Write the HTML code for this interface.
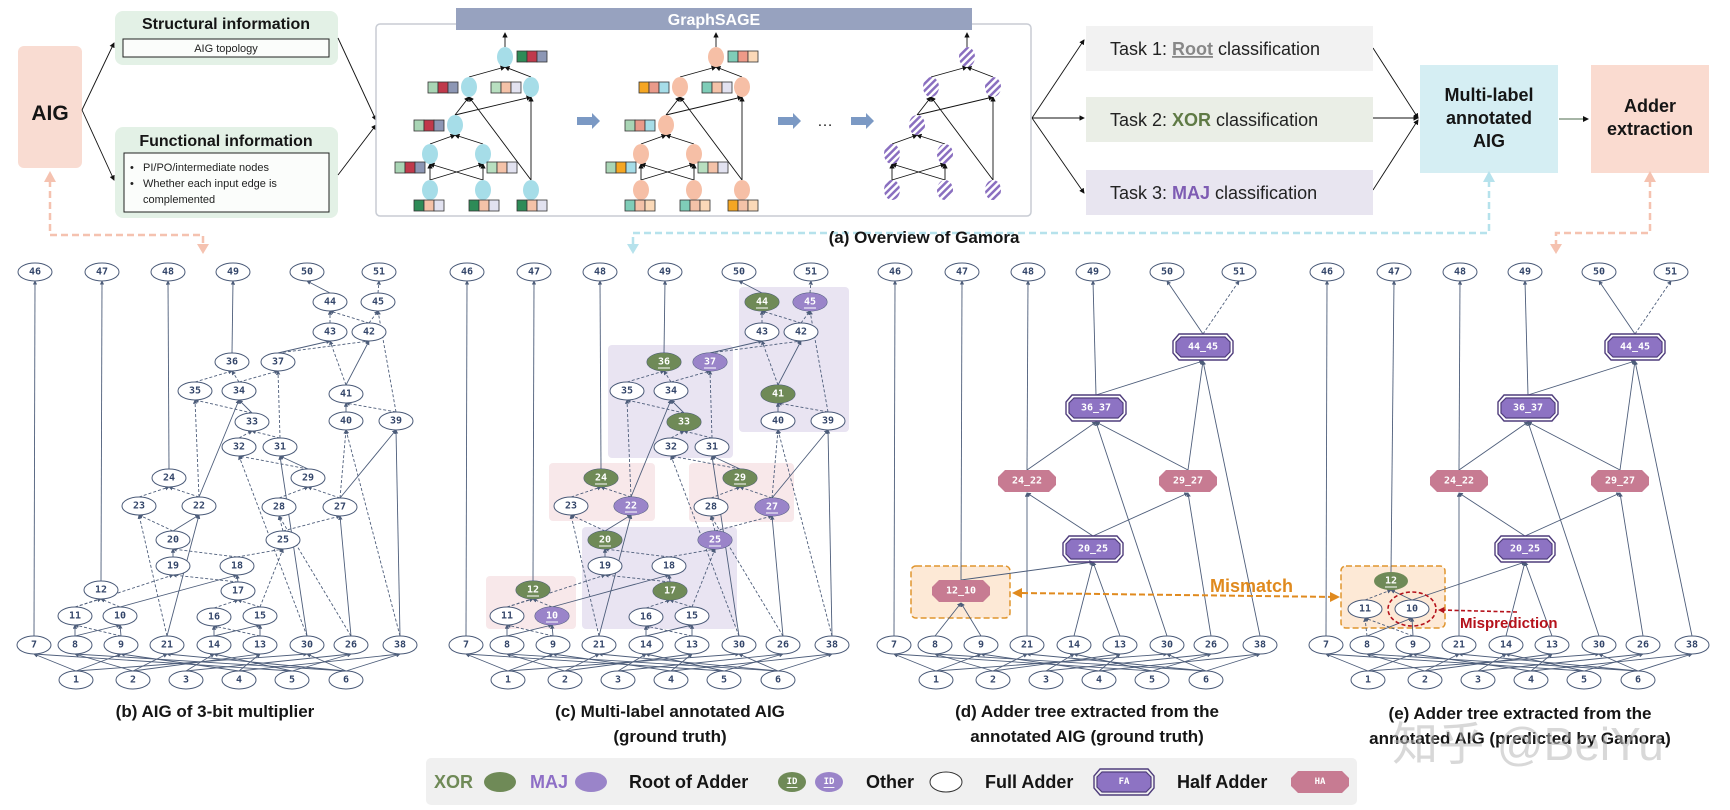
<!DOCTYPE html>
<html><head><meta charset="utf-8">
<style>
html,body{margin:0;padding:0;background:#fff;}
svg{display:block;}
.e{fill:none;stroke:#4d5d7a;stroke-width:0.9;}
.d{stroke-dasharray:3 2;}
.ell{fill:#fff;stroke:#4a5a78;stroke-width:1;}
.l{font-family:"DejaVu Sans Mono",monospace;font-weight:bold;font-size:10px;fill:#34466a;text-anchor:middle;dominant-baseline:central;}
.w{fill:#fff;}
.t{font-family:"Liberation Sans",sans-serif;font-weight:bold;fill:#151515;}
.ge{fill:none;stroke:#111;stroke-width:0.9;}
</style></head><body>
<svg width="1730" height="810" viewBox="0 0 1730 810" xmlns="http://www.w3.org/2000/svg">
<defs>
<marker id="a" viewBox="0 0 6 6" refX="5" refY="3" markerWidth="5" markerHeight="5" orient="auto"><path d="M0,0L6,3L0,6z" fill="#4d5d7a"/></marker>
<marker id="k" viewBox="0 0 6 6" refX="5" refY="3" markerWidth="6" markerHeight="6" orient="auto"><path d="M0,0L6,3L0,6z" fill="#111"/></marker>
<marker id="o" viewBox="0 0 6 6" refX="5" refY="3" markerWidth="4" markerHeight="4" orient="auto"><path d="M0,0L6,3L0,6z" fill="#e08a1e"/></marker>
<marker id="r" viewBox="0 0 6 6" refX="5" refY="3" markerWidth="4" markerHeight="4" orient="auto"><path d="M0,0L6,3L0,6z" fill="#b5121b"/></marker>
<pattern id="hatch" width="5" height="5" patternUnits="userSpaceOnUse" patternTransform="rotate(45)"><rect width="5" height="5" fill="#fff"/><rect width="2.5" height="5" fill="#8a6fc0"/></pattern>

<g id="inb" class="e" marker-end="url(#a)">
<line x1="76" y1="671" x2="34" y2="654"/><line x1="76" y1="671" x2="121" y2="654"/><line x1="76" y1="671" x2="307" y2="654"/>
<line x1="133" y1="671" x2="75" y2="654"/><line x1="133" y1="671" x2="167" y2="654"/><line x1="133" y1="671" x2="260" y2="654"/>
<line x1="186" y1="671" x2="214" y2="654"/><line x1="186" y1="671" x2="351" y2="654"/>
<line x1="239" y1="671" x2="121" y2="654"/><line x1="239" y1="671" x2="260" y2="654"/><line x1="239" y1="671" x2="400" y2="654"/>
<line x1="292" y1="671" x2="34" y2="654"/><line x1="292" y1="671" x2="214" y2="654"/><line x1="292" y1="671" x2="351" y2="654"/>
<line x1="346" y1="671" x2="75" y2="654"/><line x1="346" y1="671" x2="167" y2="654"/><line x1="346" y1="671" x2="307" y2="654"/><line x1="346" y1="671" x2="400" y2="654"/>
</g>
<g id="io">
<g class="ell">
<ellipse cx="35" cy="272" rx="17" ry="9"/><ellipse cx="102" cy="272" rx="17" ry="9"/><ellipse cx="168" cy="272" rx="17" ry="9"/><ellipse cx="233" cy="272" rx="17" ry="9"/><ellipse cx="307" cy="272" rx="17" ry="9"/><ellipse cx="379" cy="272" rx="17" ry="9"/>
<ellipse cx="34" cy="645" rx="17" ry="9"/><ellipse cx="75" cy="645" rx="17" ry="9"/><ellipse cx="121" cy="645" rx="17" ry="9"/><ellipse cx="167" cy="645" rx="17" ry="9"/><ellipse cx="214" cy="645" rx="17" ry="9"/><ellipse cx="260" cy="645" rx="17" ry="9"/><ellipse cx="307" cy="645" rx="17" ry="9"/><ellipse cx="351" cy="645" rx="17" ry="9"/><ellipse cx="400" cy="645" rx="17" ry="9"/>
<ellipse cx="76" cy="680" rx="17" ry="9"/><ellipse cx="133" cy="680" rx="17" ry="9"/><ellipse cx="186" cy="680" rx="17" ry="9"/><ellipse cx="239" cy="680" rx="17" ry="9"/><ellipse cx="292" cy="680" rx="17" ry="9"/><ellipse cx="346" cy="680" rx="17" ry="9"/>
</g>
<g class="l">
<text x="35" y="272">46</text><text x="102" y="272">47</text><text x="168" y="272">48</text><text x="233" y="272">49</text><text x="307" y="272">50</text><text x="379" y="272">51</text>
<text x="34" y="645">7</text><text x="75" y="645">8</text><text x="121" y="645">9</text><text x="167" y="645">21</text><text x="214" y="645">14</text><text x="260" y="645">13</text><text x="307" y="645">30</text><text x="351" y="645">26</text><text x="400" y="645">38</text>
<text x="76" y="680">1</text><text x="133" y="680">2</text><text x="186" y="680">3</text><text x="239" y="680">4</text><text x="292" y="680">5</text><text x="346" y="680">6</text>
</g>
</g>

<g id="edB">
<g class="e" marker-end="url(#a)">
<line x1="34" y1="636" x2="35" y2="281"/><line x1="101" y1="581" x2="102" y2="281"/><line x1="169" y1="469" x2="168" y2="281"/><line x1="232" y1="353" x2="233" y2="281"/><line x1="330" y1="293" x2="307" y2="281"/>
<line x1="278" y1="353" x2="330" y2="341"/><line x1="346" y1="385" x2="369" y2="341"/><line x1="252" y1="413" x2="239" y2="400"/><line x1="199" y1="497" x2="239" y2="400"/><line x1="346" y1="412" x2="346" y2="403"/>
<line x1="340" y1="498" x2="396" y2="430"/><line x1="400" y1="636" x2="396" y2="430"/><line x1="308" y1="469" x2="280" y2="456"/><line x1="307" y1="636" x2="280" y2="456"/>
<line x1="173" y1="531" x2="199" y2="515"/><line x1="167" y1="636" x2="199" y2="515"/><line x1="173" y1="557" x2="173" y2="549"/><line x1="351" y1="636" x2="340" y2="516"/>
<line x1="120" y1="607" x2="237" y2="575"/><line x1="238" y1="582" x2="237" y2="575"/><line x1="75" y1="636" x2="75" y2="625"/><line x1="75" y1="636" x2="120" y2="625"/><line x1="121" y1="636" x2="120" y2="625"/>
<line x1="214" y1="636" x2="214" y2="626"/><line x1="214" y1="636" x2="260" y2="625"/><line x1="260" y1="636" x2="260" y2="625"/>
</g>
<g class="e d" marker-end="url(#a)">
<line x1="378" y1="293" x2="379" y2="281"/><line x1="330" y1="323" x2="330" y2="311"/><line x1="369" y1="323" x2="330" y2="311"/><line x1="369" y1="323" x2="378" y2="311"/><line x1="396" y1="412" x2="378" y2="311"/>
<line x1="278" y1="353" x2="369" y2="341"/><line x1="346" y1="385" x2="330" y2="341"/><line x1="195" y1="382" x2="232" y2="371"/><line x1="239" y1="382" x2="232" y2="371"/><line x1="239" y1="382" x2="278" y2="371"/>
<line x1="280" y1="438" x2="278" y2="371"/><line x1="252" y1="413" x2="195" y2="400"/><line x1="199" y1="497" x2="195" y2="400"/><line x1="280" y1="438" x2="252" y2="431"/><line x1="239" y1="438" x2="252" y2="431"/>
<line x1="396" y1="412" x2="346" y2="403"/><line x1="340" y1="498" x2="346" y2="430"/><line x1="400" y1="636" x2="346" y2="430"/><line x1="308" y1="469" x2="239" y2="456"/><line x1="307" y1="636" x2="239" y2="456"/>
<line x1="279" y1="498" x2="308" y2="487"/><line x1="340" y1="498" x2="308" y2="487"/><line x1="139" y1="497" x2="169" y2="487"/><line x1="199" y1="497" x2="169" y2="487"/>
<line x1="173" y1="531" x2="139" y2="515"/><line x1="167" y1="636" x2="139" y2="515"/><line x1="283" y1="531" x2="279" y2="516"/><line x1="283" y1="531" x2="340" y2="516"/><line x1="351" y1="636" x2="279" y2="516"/>
<line x1="237" y1="557" x2="173" y2="549"/><line x1="237" y1="557" x2="283" y2="549"/><line x1="260" y1="607" x2="283" y2="549"/><line x1="238" y1="582" x2="173" y2="575"/><line x1="75" y1="607" x2="173" y2="575"/>
<line x1="75" y1="607" x2="101" y2="599"/><line x1="120" y1="607" x2="101" y2="599"/><line x1="214" y1="608" x2="238" y2="600"/><line x1="260" y1="607" x2="238" y2="600"/>
<line x1="121" y1="636" x2="75" y2="625"/><line x1="260" y1="636" x2="214" y2="626"/>
</g>
</g>
<g id="midE" class="ell">
<ellipse cx="330" cy="302" rx="17" ry="9"/><ellipse cx="378" cy="302" rx="17" ry="9"/><ellipse cx="330" cy="332" rx="17" ry="9"/><ellipse cx="369" cy="332" rx="17" ry="9"/>
<ellipse cx="232" cy="362" rx="17" ry="9"/><ellipse cx="278" cy="362" rx="17" ry="9"/><ellipse cx="195" cy="391" rx="17" ry="9"/><ellipse cx="239" cy="391" rx="17" ry="9"/><ellipse cx="346" cy="394" rx="17" ry="9"/>
<ellipse cx="252" cy="422" rx="17" ry="9"/><ellipse cx="346" cy="421" rx="17" ry="9"/><ellipse cx="396" cy="421" rx="17" ry="9"/><ellipse cx="239" cy="447" rx="17" ry="9"/><ellipse cx="280" cy="447" rx="17" ry="9"/>
<ellipse cx="169" cy="478" rx="17" ry="9"/><ellipse cx="308" cy="478" rx="17" ry="9"/><ellipse cx="139" cy="506" rx="17" ry="9"/><ellipse cx="199" cy="506" rx="17" ry="9"/><ellipse cx="279" cy="507" rx="17" ry="9"/><ellipse cx="340" cy="507" rx="17" ry="9"/>
<ellipse cx="173" cy="540" rx="17" ry="9"/><ellipse cx="283" cy="540" rx="17" ry="9"/><ellipse cx="173" cy="566" rx="17" ry="9"/><ellipse cx="237" cy="566" rx="17" ry="9"/><ellipse cx="101" cy="590" rx="17" ry="9"/><ellipse cx="238" cy="591" rx="17" ry="9"/>
<ellipse cx="75" cy="616" rx="17" ry="9"/><ellipse cx="120" cy="616" rx="17" ry="9"/><ellipse cx="214" cy="617" rx="17" ry="9"/><ellipse cx="260" cy="616" rx="17" ry="9"/>
</g>
<g id="faShape"><polygon points="-24,-13 24,-13 30,-6 30,6 24,13 -24,13 -30,6 -30,-6" fill="none" stroke="#4f3d7c" stroke-width="1.4"/><polygon points="-22,-10 22,-10 27,-5 27,5 22,10 -22,10 -27,5 -27,-5" fill="#8d73c3" stroke="#4f3d7c" stroke-width="1.2"/></g>
<polygon id="haShape" points="-22,-11 22,-11 29,-4 29,4 22,11 -22,11 -29,4 -29,-4" fill="#c77b92"/>
</defs>

<rect x="18" y="46" width="64" height="122" rx="6" fill="#f9dcd2"/>
<text class="t" x="50" y="120" font-size="21" text-anchor="middle">AIG</text>
<rect x="115" y="11" width="223" height="54" rx="8" fill="#e3f1e6"/>
<text class="t" x="226" y="29" font-size="16" text-anchor="middle">Structural information</text>
<rect x="123" y="39" width="206" height="18" fill="#fbfdfb" stroke="#222" stroke-width="1"/>
<text x="226" y="52" font-size="11" text-anchor="middle" font-family="Liberation Sans,sans-serif" fill="#222">AIG topology</text>
<rect x="115" y="127" width="223" height="91" rx="8" fill="#e3f1e6"/>
<text class="t" x="226" y="146" font-size="16" text-anchor="middle">Functional information</text>
<rect x="124" y="153" width="205" height="59" fill="#fbfdfb" stroke="#222" stroke-width="1"/>
<g font-family="Liberation Sans,sans-serif" font-size="11" fill="#222">
<text x="130" y="171">•</text><text x="143" y="171">PI/PO/intermediate nodes</text>
<text x="130" y="187">•</text><text x="143" y="187">Whether each input edge is</text>
<text x="143" y="203">complemented</text></g>
<g class="ge" marker-end="url(#k)">
<line x1="82" y1="110" x2="114" y2="43"/><line x1="82" y1="110" x2="114" y2="180"/>
<line x1="338" y1="38" x2="376" y2="120"/><line x1="338" y1="175" x2="376" y2="125"/>
<line x1="1032" y1="118" x2="1084" y2="40"/><line x1="1032" y1="118" x2="1084" y2="118"/><line x1="1032" y1="118" x2="1084" y2="193"/>
<line x1="1373" y1="48" x2="1418" y2="118"/><line x1="1373" y1="118" x2="1418" y2="118"/><line x1="1373" y1="190" x2="1418" y2="120"/>
</g>
<line x1="1559" y1="119" x2="1588" y2="119" stroke="#4d6b4d" stroke-width="1" marker-end="url(#k)"/>

<rect x="376" y="24" width="655" height="192" rx="4" fill="#fff" stroke="#c8ccd4" stroke-width="1.5"/>
<rect x="456" y="8" width="516" height="22" fill="#97a2bf"/>
<text class="t" x="714" y="25" font-size="16" text-anchor="middle" style="fill:#fff">GraphSAGE</text>

<g id="ged" class="ge" marker-end="url(#k)" stroke-width="0.8">
<line x1="430" y1="180" x2="430" y2="164"/><line x1="430" y1="180" x2="483" y2="164"/><line x1="483" y1="180" x2="430" y2="164"/><line x1="483" y1="180" x2="483" y2="164"/>
<line x1="430" y1="144" x2="455" y2="135"/><line x1="483" y1="144" x2="455" y2="135"/><line x1="455" y1="115" x2="469" y2="97"/><line x1="455" y1="115" x2="531" y2="97"/>
<line x1="531" y1="180" x2="469" y2="97"/><line x1="531" y1="180" x2="531" y2="97"/><line x1="469" y1="77" x2="505" y2="67"/><line x1="531" y1="77" x2="505" y2="67"/><line x1="505" y1="47" x2="505" y2="33"/>
</g>
<use href="#ged" x="211"/><use href="#ged" x="462"/>
<g fill="#a6dde8"><ellipse cx="505" cy="57" rx="8" ry="10"/><ellipse cx="469" cy="87" rx="8" ry="10"/><ellipse cx="531" cy="87" rx="8" ry="10"/><ellipse cx="455" cy="125" rx="8" ry="10"/><ellipse cx="430" cy="154" rx="8" ry="10"/><ellipse cx="483" cy="154" rx="8" ry="10"/><ellipse cx="430" cy="190" rx="8" ry="10"/><ellipse cx="483" cy="190" rx="8" ry="10"/><ellipse cx="531" cy="190" rx="8" ry="10"/></g>
<g fill="#f6bfa6" transform="translate(211,0)"><ellipse cx="505" cy="57" rx="8" ry="10"/><ellipse cx="469" cy="87" rx="8" ry="10"/><ellipse cx="531" cy="87" rx="8" ry="10"/><ellipse cx="455" cy="125" rx="8" ry="10"/><ellipse cx="430" cy="154" rx="8" ry="10"/><ellipse cx="483" cy="154" rx="8" ry="10"/><ellipse cx="430" cy="190" rx="8" ry="10"/><ellipse cx="483" cy="190" rx="8" ry="10"/><ellipse cx="531" cy="190" rx="8" ry="10"/></g>
<g fill="url(#hatch)" transform="translate(462,0)"><ellipse cx="505" cy="57" rx="8" ry="10"/><ellipse cx="469" cy="87" rx="8" ry="10"/><ellipse cx="531" cy="87" rx="8" ry="10"/><ellipse cx="455" cy="125" rx="8" ry="10"/><ellipse cx="430" cy="154" rx="8" ry="10"/><ellipse cx="483" cy="154" rx="8" ry="10"/><ellipse cx="430" cy="190" rx="8" ry="10"/><ellipse cx="483" cy="190" rx="8" ry="10"/><ellipse cx="531" cy="190" rx="8" ry="10"/></g>
<g stroke="#333" stroke-width="0.8">
<rect x="517" y="51" width="10" height="11" fill="#2e8b57"/><rect x="527" y="51" width="10" height="11" fill="#c0394b"/><rect x="537" y="51" width="10" height="11" fill="#8d97b5"/>
<rect x="428" y="82" width="10" height="11" fill="#a9d5b5"/><rect x="438" y="82" width="10" height="11" fill="#c0394b"/><rect x="448" y="82" width="10" height="11" fill="#8d97b5"/>
<rect x="491" y="82" width="10" height="11" fill="#b8dfc0"/><rect x="501" y="82" width="10" height="11" fill="#f4c2a8"/><rect x="511" y="82" width="10" height="11" fill="#e2e2f0"/>
<rect x="414" y="120" width="10" height="11" fill="#a9d5b5"/><rect x="424" y="120" width="10" height="11" fill="#c0394b"/><rect x="434" y="120" width="10" height="11" fill="#8d97b5"/>
<rect x="395" y="162" width="10" height="11" fill="#a9d5b5"/><rect x="405" y="162" width="10" height="11" fill="#c0394b"/><rect x="415" y="162" width="10" height="11" fill="#8d97b5"/>
<rect x="487" y="162" width="10" height="11" fill="#b8dfc0"/><rect x="497" y="162" width="10" height="11" fill="#f4c2a8"/><rect x="507" y="162" width="10" height="11" fill="#e2e2f0"/>
<rect x="414" y="200" width="10" height="11" fill="#2e8b57"/><rect x="424" y="200" width="10" height="11" fill="#f4c2a8"/><rect x="434" y="200" width="10" height="11" fill="#e2e2f0"/>
<rect x="469" y="200" width="10" height="11" fill="#2e8b57"/><rect x="479" y="200" width="10" height="11" fill="#f4c2a8"/><rect x="489" y="200" width="10" height="11" fill="#e2e2f0"/>
<rect x="517" y="200" width="10" height="11" fill="#2e8b57"/><rect x="527" y="200" width="10" height="11" fill="#f4c2a8"/><rect x="537" y="200" width="10" height="11" fill="#e2e2f0"/>
</g>
<g stroke="#333" stroke-width="0.8" transform="translate(211,0)">
<rect x="517" y="51" width="10" height="11" fill="#7fcdb8"/><rect x="527" y="51" width="10" height="11" fill="#ee9a88"/><rect x="537" y="51" width="10" height="11" fill="#fbd9b8"/>
<rect x="428" y="82" width="10" height="11" fill="#f5a623"/><rect x="438" y="82" width="10" height="11" fill="#e99a8a"/><rect x="448" y="82" width="10" height="11" fill="#a6dde8"/>
<rect x="491" y="82" width="10" height="11" fill="#7fcdb8"/><rect x="501" y="82" width="10" height="11" fill="#f4c2a8"/><rect x="511" y="82" width="10" height="11" fill="#e2e2f0"/>
<rect x="414" y="120" width="10" height="11" fill="#a9d5b5"/><rect x="424" y="120" width="10" height="11" fill="#e99a8a"/><rect x="434" y="120" width="10" height="11" fill="#a6dde8"/>
<rect x="395" y="162" width="10" height="11" fill="#a9d5b5"/><rect x="405" y="162" width="10" height="11" fill="#f5a623"/><rect x="415" y="162" width="10" height="11" fill="#a6dde8"/>
<rect x="487" y="162" width="10" height="11" fill="#b8dfc0"/><rect x="497" y="162" width="10" height="11" fill="#f4c2a8"/><rect x="507" y="162" width="10" height="11" fill="#e2e2f0"/>
<rect x="414" y="200" width="10" height="11" fill="#7fcdb8"/><rect x="424" y="200" width="10" height="11" fill="#f4c2a8"/><rect x="434" y="200" width="10" height="11" fill="#fbd9b8"/>
<rect x="469" y="200" width="10" height="11" fill="#7fcdb8"/><rect x="479" y="200" width="10" height="11" fill="#f4c2a8"/><rect x="489" y="200" width="10" height="11" fill="#fbd9b8"/>
<rect x="517" y="200" width="10" height="11" fill="#f5a623"/><rect x="527" y="200" width="10" height="11" fill="#f4c2a8"/><rect x="537" y="200" width="10" height="11" fill="#fbd9b8"/>
</g>
<g fill="#7b99c4">
<polygon points="577,117 592,117 592,113 600,121 592,129 592,125 577,125"/>
<polygon points="778,117 793,117 793,113 801,121 793,129 793,125 778,125"/>
<polygon points="851,117 866,117 866,113 874,121 866,129 866,125 851,125"/>
</g>
<text x="825" y="126" font-family="Liberation Sans,sans-serif" font-size="16" fill="#222" text-anchor="middle">…</text>

<rect x="1086" y="26" width="287" height="45" fill="#f2f2f2"/>
<rect x="1086" y="97" width="287" height="45" fill="#eaeee6"/>
<rect x="1086" y="170" width="287" height="45" fill="#e8e5f0"/>
<g font-family="Liberation Sans,sans-serif" font-size="18" fill="#222">
<text x="1110" y="55">Task 1: <tspan font-weight="bold" fill="#888" text-decoration="underline">Root</tspan> classification</text>
<text x="1110" y="126">Task 2: <tspan font-weight="bold" fill="#5f7a45">XOR</tspan> classification</text>
<text x="1110" y="199">Task 3: <tspan font-weight="bold" fill="#7e5cb3">MAJ</tspan> classification</text>
</g>
<rect x="1420" y="65" width="138" height="108" fill="#d5eef3"/>
<g class="t" font-size="18" text-anchor="middle"><text x="1489" y="101">Multi-label</text><text x="1489" y="124">annotated</text><text x="1489" y="147">AIG</text></g>
<rect x="1591" y="65" width="118" height="108" fill="#fadbd0"/>
<g class="t" font-size="18" text-anchor="middle"><text x="1650" y="112">Adder</text><text x="1650" y="135">extraction</text></g>

<g fill="none" stroke-width="2.5" stroke-dasharray="7 4">
<polyline points="50,180 50,235 203,235 203,244" stroke="#f5c2b0"/>
<polyline points="1489,180 1489,233 633,233 633,244" stroke="#b6e2ec"/>
<polyline points="1650,180 1650,233 1556,233 1556,244" stroke="#f5c2b0"/>
</g>
<polygon points="44,182 56,182 50,171" fill="#f5c2b0"/><polygon points="197,244 209,244 203,254" fill="#f5c2b0"/>
<polygon points="1483,182 1495,182 1489,171" fill="#b6e2ec"/><polygon points="627,244 639,244 633,254" fill="#b6e2ec"/>
<polygon points="1644,182 1656,182 1650,171" fill="#f5c2b0"/><polygon points="1550,244 1562,244 1556,254" fill="#f5c2b0"/>
<text class="t" x="924" y="243" font-size="17" text-anchor="middle">(a) Overview of Gamora</text>

<use href="#edB"/><use href="#inb"/><use href="#midE"/><use href="#io"/>
<g id="midT" class="l">
<text x="330" y="302">44</text><text x="378" y="302">45</text><text x="330" y="332">43</text><text x="369" y="332">42</text>
<text x="232" y="362">36</text><text x="278" y="362">37</text><text x="195" y="391">35</text><text x="239" y="391">34</text><text x="346" y="394">41</text>
<text x="252" y="422">33</text><text x="346" y="421">40</text><text x="396" y="421">39</text><text x="239" y="447">32</text><text x="280" y="447">31</text>
<text x="169" y="478">24</text><text x="308" y="478">29</text><text x="139" y="506">23</text><text x="199" y="506">22</text><text x="279" y="507">28</text><text x="340" y="507">27</text>
<text x="173" y="540">20</text><text x="283" y="540">25</text><text x="173" y="566">19</text><text x="237" y="566">18</text><text x="101" y="590">12</text><text x="238" y="591">17</text>
<text x="75" y="616">11</text><text x="120" y="616">10</text><text x="214" y="617">16</text><text x="260" y="616">15</text>
</g>
<text class="t" x="215" y="717" font-size="17" text-anchor="middle">(b) AIG of 3-bit multiplier</text>

<g fill="#e9e4f2"><rect x="739" y="287" width="110" height="145" rx="4"/><rect x="608" y="345" width="125" height="113" rx="4"/><rect x="582" y="527" width="155" height="102" rx="4"/></g>
<g fill="#f8e8ea"><rect x="549" y="463" width="106" height="58" rx="4"/><rect x="689" y="463" width="105" height="59" rx="4"/><rect x="486" y="576" width="90" height="53" rx="4"/></g>
<g transform="translate(432,0)">
<use href="#edB"/><use href="#inb"/><use href="#midE"/><use href="#io"/>
<g fill="#6f8a57"><ellipse cx="330" cy="302" rx="17" ry="9"/><ellipse cx="232" cy="362" rx="17" ry="9"/><ellipse cx="346" cy="394" rx="17" ry="9"/><ellipse cx="252" cy="422" rx="17" ry="9"/><ellipse cx="169" cy="478" rx="17" ry="9"/><ellipse cx="308" cy="478" rx="17" ry="9"/><ellipse cx="173" cy="540" rx="17" ry="9"/><ellipse cx="238" cy="591" rx="17" ry="9"/><ellipse cx="101" cy="590" rx="17" ry="9"/></g>
<g fill="#9a84c9"><ellipse cx="378" cy="302" rx="17" ry="9"/><ellipse cx="278" cy="362" rx="17" ry="9"/><ellipse cx="199" cy="506" rx="17" ry="9"/><ellipse cx="340" cy="507" rx="17" ry="9"/><ellipse cx="283" cy="540" rx="17" ry="9"/><ellipse cx="120" cy="616" rx="17" ry="9"/></g>
<g class="l"><text x="330" y="332">43</text><text x="369" y="332">42</text><text x="195" y="391">35</text><text x="239" y="391">34</text><text x="346" y="421">40</text><text x="396" y="421">39</text><text x="239" y="447">32</text><text x="280" y="447">31</text><text x="139" y="506">23</text><text x="279" y="507">28</text><text x="173" y="566">19</text><text x="237" y="566">18</text><text x="75" y="616">11</text><text x="214" y="617">16</text><text x="260" y="616">15</text></g>
<g class="l" style="fill:#fff"><text x="330" y="302" text-decoration="underline">44</text><text x="378" y="302" text-decoration="underline">45</text><text x="232" y="362" text-decoration="underline">36</text><text x="278" y="362" text-decoration="underline">37</text><text x="346" y="394">41</text><text x="252" y="422">33</text><text x="169" y="478" text-decoration="underline">24</text><text x="308" y="478" text-decoration="underline">29</text><text x="199" y="506" text-decoration="underline">22</text><text x="340" y="507" text-decoration="underline">27</text><text x="173" y="540" text-decoration="underline">20</text><text x="283" y="540" text-decoration="underline">25</text><text x="101" y="590" text-decoration="underline">12</text><text x="238" y="591">17</text><text x="120" y="616" text-decoration="underline">10</text></g>
</g>
<text class="t" x="670" y="717" font-size="17" text-anchor="middle">(c) Multi-label annotated AIG</text>
<text class="t" x="670" y="742" font-size="17" text-anchor="middle">(ground truth)</text>

<rect x="911" y="566" width="99" height="52" rx="5" fill="#fde9d6" stroke="#e0952e" stroke-width="1.5" stroke-dasharray="6 3"/>
<rect x="1341" y="566" width="104" height="62" rx="5" fill="#fde9d6" stroke="#e0952e" stroke-width="1.5" stroke-dasharray="6 3"/>
<g transform="translate(860,0)">
<use href="#inb"/><use href="#io"/>
<g class="e" marker-end="url(#a)">
<line x1="34" y1="636" x2="35" y2="281"/><line x1="101" y1="580" x2="102" y2="281"/><line x1="167" y1="470" x2="168" y2="281"/><line x1="167" y1="636" x2="167" y2="493"/>
<line x1="236" y1="395" x2="233" y2="281"/><line x1="343" y1="334" x2="307" y2="281"/><line x1="236" y1="395" x2="343" y2="361"/><line x1="328" y1="470" x2="343" y2="361"/><line x1="400" y1="636" x2="343" y2="361"/>
<line x1="167" y1="470" x2="236" y2="422"/><line x1="328" y1="470" x2="236" y2="422"/><line x1="307" y1="636" x2="236" y2="422"/>
<line x1="233" y1="536" x2="167" y2="493"/><line x1="233" y1="536" x2="328" y2="493"/><line x1="351" y1="636" x2="328" y2="493"/>
<line x1="101" y1="580" x2="233" y2="562"/><line x1="214" y1="636" x2="233" y2="562"/><line x1="260" y1="636" x2="233" y2="562"/>
<line x1="75" y1="636" x2="101" y2="603"/><line x1="121" y1="636" x2="101" y2="603"/>
</g>
<line class="e d" x1="343" y1="334" x2="379" y2="281" marker-end="url(#a)"/>
<use href="#faShape" x="343" y="347"/><use href="#faShape" x="236" y="408"/><use href="#faShape" x="233" y="549"/>
<use href="#haShape" x="167" y="481"/><use href="#haShape" x="328" y="481"/><use href="#haShape" x="101" y="591"/>
<g class="l" style="fill:#fff"><text x="343" y="347">44_45</text><text x="236" y="408">36_37</text><text x="233" y="549">20_25</text><text x="167" y="481">24_22</text><text x="328" y="481">29_27</text><text x="101" y="591">12_10</text></g>
</g>
<text class="t" x="1087" y="717" font-size="17" text-anchor="middle">(d) Adder tree extracted from the</text>
<text class="t" x="1087" y="742" font-size="17" text-anchor="middle">annotated AIG (ground truth)</text>

<g transform="translate(1292,0)">
<use href="#inb"/><use href="#io"/>
<g class="e" marker-end="url(#a)">
<line x1="34" y1="636" x2="35" y2="281"/><line x1="99" y1="572" x2="102" y2="281"/><line x1="167" y1="470" x2="168" y2="281"/><line x1="167" y1="636" x2="167" y2="493"/>
<line x1="236" y1="395" x2="233" y2="281"/><line x1="343" y1="334" x2="307" y2="281"/><line x1="236" y1="395" x2="343" y2="361"/><line x1="328" y1="470" x2="343" y2="361"/><line x1="400" y1="636" x2="343" y2="361"/>
<line x1="167" y1="470" x2="236" y2="422"/><line x1="328" y1="470" x2="236" y2="422"/><line x1="307" y1="636" x2="236" y2="422"/>
<line x1="233" y1="536" x2="167" y2="493"/><line x1="233" y1="536" x2="328" y2="493"/><line x1="351" y1="636" x2="328" y2="493"/>
<line x1="120" y1="600" x2="233" y2="562"/><line x1="214" y1="636" x2="233" y2="562"/><line x1="260" y1="636" x2="233" y2="562"/>
<line x1="120" y1="600" x2="99" y2="590"/><line x1="75" y1="636" x2="120" y2="618"/><line x1="121" y1="636" x2="120" y2="618"/>
</g>
<g class="e d" marker-end="url(#a)">
<line x1="343" y1="334" x2="379" y2="281"/><line x1="73" y1="600" x2="99" y2="590"/><line x1="75" y1="636" x2="73" y2="618"/><line x1="121" y1="636" x2="73" y2="618"/>
</g>
<use href="#faShape" x="343" y="347"/><use href="#faShape" x="236" y="408"/><use href="#faShape" x="233" y="549"/>
<use href="#haShape" x="167" y="481"/><use href="#haShape" x="328" y="481"/>
<ellipse cx="99" cy="581" rx="17" ry="9" fill="#6f8a57"/>
<ellipse class="ell" cx="73" cy="609" rx="17" ry="9"/><ellipse class="ell" cx="120" cy="609" rx="17" ry="9"/>
<g class="l" style="fill:#fff"><text x="343" y="347">44_45</text><text x="236" y="408">36_37</text><text x="233" y="549">20_25</text><text x="167" y="481">24_22</text><text x="328" y="481">29_27</text><text x="99" y="581" text-decoration="underline">12</text></g>
<g class="l"><text x="73" y="609">11</text><text x="120" y="609">10</text></g>
<ellipse cx="120" cy="609" rx="24" ry="17" fill="none" stroke="#b5121b" stroke-width="1.6" stroke-dasharray="4 2.5"/>
</g>
<line x1="1517" y1="612" x2="1439" y2="610" stroke="#b5121b" stroke-width="1.6" stroke-dasharray="4 2.5" marker-end="url(#r)"/>
<text class="t" x="1460" y="628" font-size="15" style="fill:#b5121b">Misprediction</text>
<line x1="1022" y1="593" x2="1336" y2="597" stroke="#e08a1e" stroke-width="2" stroke-dasharray="6 3"/>
<polygon points="1012,593 1022,588 1022,598" fill="#e08a1e"/><polygon points="1340,597 1330,592 1330,602" fill="#e08a1e"/>
<text class="t" x="1210" y="592" font-size="18" style="fill:#e08a1e">Mismatch</text>
<text class="t" x="1520" y="719" font-size="17" text-anchor="middle">(e) Adder tree extracted from the</text>
<text class="t" x="1520" y="744" font-size="17" text-anchor="middle">annotated AIG (predicted by Gamora)</text>
<text x="1528" y="760" font-family="Liberation Sans,'Noto Sans CJK SC',sans-serif" font-size="46" fill="#b8b8b8" fill-opacity="0.55" text-anchor="middle">知乎 @BeiYu</text>

<rect x="426" y="758" width="931" height="47" rx="5" fill="#f0f0f0"/>
<g class="t" font-size="18">
<text x="434" y="788" style="fill:#6f8a57">XOR</text>
<text x="530" y="788" style="fill:#8e6fc6">MAJ</text>
<text x="629" y="788">Root of Adder</text>
<text x="866" y="788">Other</text>
<text x="985" y="788">Full Adder</text>
<text x="1177" y="788">Half Adder</text>
</g>
<ellipse cx="500" cy="782" rx="16" ry="10" fill="#6f8a57"/>
<ellipse cx="591" cy="782" rx="16" ry="10" fill="#9a84c9"/>
<ellipse cx="792" cy="782" rx="14" ry="10" fill="#6f8a57"/><ellipse cx="829" cy="782" rx="14" ry="10" fill="#9a84c9"/>
<g class="l" style="fill:#fff;font-size:9px"><text x="792" y="782" text-decoration="underline">ID</text><text x="829" y="782" text-decoration="underline">ID</text></g>
<ellipse cx="946" cy="782" rx="16" ry="10" fill="#fff" stroke="#333" stroke-width="1"/>
<use href="#faShape" x="1124" y="782"/>
<text class="l" x="1124" y="782" style="fill:#fff;font-size:9px">FA</text>
<use href="#haShape" x="1320" y="782"/>
<text class="l" x="1320" y="782" style="fill:#fff;font-size:9px">HA</text>
</svg>
</body></html>
